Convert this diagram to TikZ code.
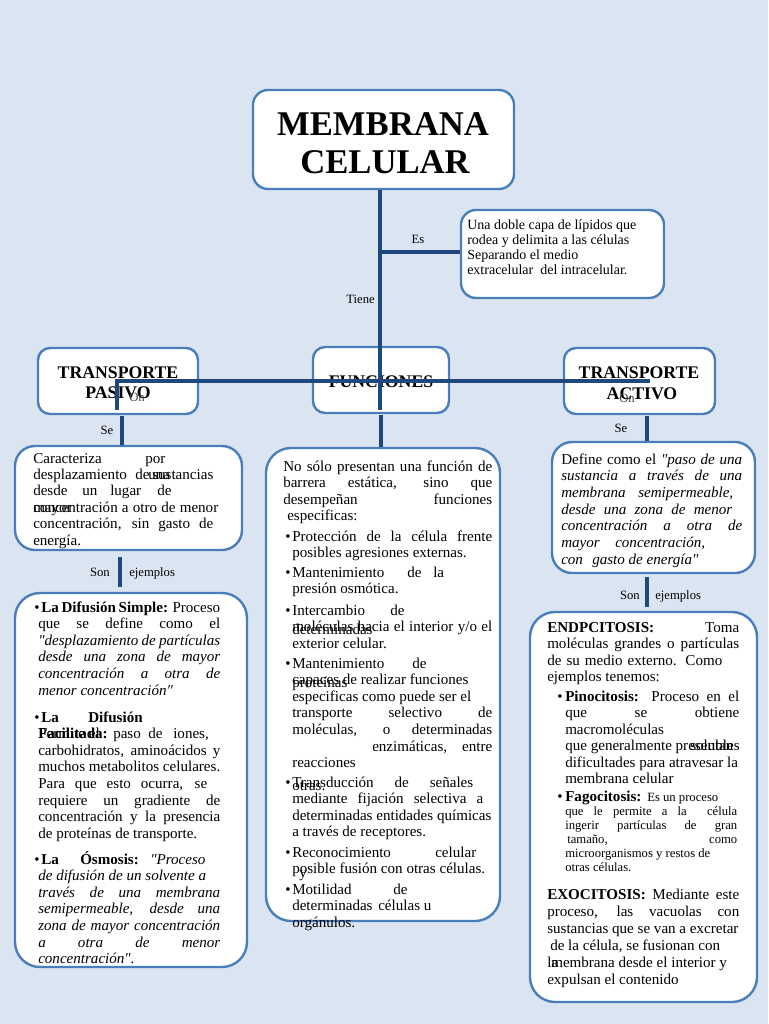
\documentclass[tikz,border=0pt]{standalone}
\usepackage{fontspec}
\setmainfont{Liberation Serif}
\newdimen\px \px=0.75pt
\newcommand\pwx[2]{\rlap{\hspace*{#1\px}#2}}
\newcommand\jlx[2]{\hbox to #1\px{#2}}
\newcommand\plx[1]{\hbox{#1}}
\newcommand\gapx[1]{\vskip #1\px\relax}
\newcommand\bskx[1]{\baselineskip=#1\px\relax}
\newcommand\blkx[2]{\vtop{\lineskiplimit=-\maxdimen\lineskip=0pt\baselineskip=#1\px\relax #2}}
\newcommand\bulx{\pwx{-4}{\textbullet}}
\newcommand\bmx{\pwx{2}{\textbullet}}
\newcommand\smfx{\fontsize{9.5}{11}\selectfont}
\newcommand\qq{\textquotedbl}
\definecolor{bgc}{RGB}{219,229,241}
\definecolor{boxc}{RGB}{74,126,187}
\definecolor{connc}{RGB}{31,73,125}
\begin{document}
\begin{tikzpicture}[x=0.75pt,y=-0.75pt,
 bx/.style={draw=boxc, fill=white, line width=1.8pt, inner sep=0pt},
 conn/.style={draw=connc, line width=3pt},
 lbl/.style={font=\fontsize{9.5}{11}\selectfont, inner sep=0pt},
 hd/.style={font=\fontsize{13.3}{15}\selectfont\bfseries, inner sep=0pt, anchor=base},
 ttl/.style={font=\fontsize{26}{30}\selectfont\bfseries, inner sep=0pt, anchor=base},
 txt/.style={inner sep=0pt, anchor=base west, font=\fontsize{11.3}{13}\selectfont}]
\useasboundingbox (0,0) rectangle (768,1024);
\fill[bgc] (0,0) rectangle (768,1024);

% boxes
\node[bx, rounded corners=11.25pt, minimum width=195.75pt, minimum height=74.25pt] (title) at (383.5,139.5) {};
\node[bx, rounded corners=11.25pt, minimum width=152.25pt, minimum height=66pt] (desc) at (562.5,254) {};
\node[bx, rounded corners=9pt, minimum width=120pt, minimum height=49.5pt] (pasivo) at (118,381) {};
\node[bx, rounded corners=9pt, minimum width=102pt, minimum height=49.5pt] (funciones) at (381,380) {};
\node[bx, rounded corners=9pt, minimum width=113.25pt, minimum height=49.5pt] (activo) at (639.5,381) {};
\node[bx, rounded corners=15pt, minimum width=170.25pt, minimum height=78pt] (carac) at (128.5,498) {};
\node[bx, rounded corners=18.75pt, minimum width=174pt, minimum height=280.5pt] (ejpas) at (131,780) {};
\node[bx, rounded corners=18.75pt, minimum width=175.5pt, minimum height=354.75pt] (funbox) at (383,684.5) {};
\node[bx, rounded corners=15pt, minimum width=152.25pt, minimum height=98.25pt] (define) at (653.5,507.5) {};
\node[bx, rounded corners=18.75pt, minimum width=170.25pt, minimum height=292.5pt] (ejact) at (643.5,807) {};

% title and headers
\node[ttl] (t1) at (383,135) {MEMBRANA};
\node[ttl] (t2) at (385,173) {CELULAR};
\node[hd] (p1t) at (118,378) {TRANSPORTE};
\node[hd] (p2t) at (118,398) {PASIVO};
\node[hd] (ft) at (381,387) {FUNCIONES};
\node[hd] (a1t) at (639,378) {TRANSPORTE};
\node[hd] (a2t) at (642,399) {ACTIVO};

% labels
\node[lbl, anchor=base] (es) at (418,243) {Es};
\node[lbl, anchor=base east] (tiene) at (375,303) {Tiene};
\node[lbl, anchor=base] (seL) at (107,434) {Se};
\node[lbl, anchor=base] (seR) at (621,432) {Se};
\node[lbl, anchor=base, text=black!75] (onL) at (137,401) {On};
\node[lbl, anchor=base, text=black!75] (onR) at (627,402) {On};
\node[lbl, anchor=base east] (sonL) at (110,576) {Son};
\node[lbl, anchor=base west] (ejL) at (129,576) {ejemplos};
\node[lbl, anchor=base east] (sonR) at (640,599) {Son};
\node[lbl, anchor=base west] (ejR) at (655,599) {ejemplos};

% top right text
\node[txt, font=\fontsize{10.5}{12}\selectfont] (descT) at (467,229) {\blkx{15}{%
\plx{Una doble capa de lípidos que}%
\plx{rodea y delimita a las células}%
\plx{Separando el medio}%
\plx{extracelular\ \ del intracelular.}}};

% left small text
\node[txt] (caracT) at (33,463) {\blkx{16.4}{%
\plx{\pwx{0}{Caracteriza}\pwx{112}{por}}%
\plx{\pwx{0}{desplazamiento}\pwx{102}{de}\pwx{115}{una}\pwx{119}{sustancias}}%
\plx{\pwx{0}{desde}\pwx{49}{un}\pwx{77}{lugar}\pwx{124}{de}}%
\plx{\pwx{0}{mayor}\pwx{0}{\jlx{185}{concentración a otro de menor}}}%
\jlx{180}{concentración, sin gasto de}%
\plx{energía.}}};

% left big text
\node[txt] (pasT) at (38,612) {\blkx{16.6}{%
\plx{\bulx\pwx{3}{\jlx{179}{\textbf{La Difusión Simple:} Proceso}}}%
\jlx{182}{que se define como el}%
\jlx{182}{\itshape \qq desplazamiento de partículas}%
\jlx{182}{\itshape desde una zona de mayor}%
\jlx{182}{\itshape concentración a otra de}%
\plx{\itshape menor concentración\qq}%
\gapx{10.4}%
\plx{\bulx\pwx{3}{\textbf{La}}\pwx{50}{\textbf{Difusión}}}%
\plx{\pwx{0}{\textbf{Facilitada:}}\pwx{0}{Permite el}\pwx{75}{paso}\pwx{110}{de}\pwx{135}{iones,}}%
\jlx{182}{carbohidratos, aminoácidos y}%
\plx{muchos metabolitos celulares.}%
\jlx{169}{Para que esto ocurra, se}%
\jlx{182}{requiere un gradiente de}%
\jlx{182}{concentración y la presencia}%
\plx{de proteínas de transporte.}%
\gapx{9.2}%
\plx{\bulx\pwx{3}{\textbf{La}}\pwx{42}{\textbf{Ósmosis:}}\pwx{112}{\itshape \qq Proceso}}%
\plx{\itshape de difusión de un solvente a}%
\jlx{182}{\itshape través de una membrana}%
\jlx{182}{\itshape semipermeable, desde una}%
\jlx{182}{\itshape zona de mayor concentración}%
\jlx{182}{\itshape a otra de menor}%
\plx{\itshape concentración\qq.}}};

% middle text
\node[txt] (funT) at (283,471) {\blkx{16.6}{%
\jlx{209}{No sólo presentan una función de}%
\jlx{209}{barrera estática, sino que}%
\jlx{209}{desempeñan funciones}%
\plx{\pwx{4}{especificas:}}%
\gapx{3.6}%
\plx{\bmx\pwx{9}{\jlx{200}{Protección de la célula frente}}}%
\plx{\pwx{9}{posibles agresiones externas.}}%
\gapx{2.8}%
\plx{\bmx\pwx{9}{Mantenimiento}\pwx{124}{de}\pwx{150}{la}}%
\plx{\pwx{9}{presión osmótica.}}%
\gapx{4.8}%
\plx{\bmx\pwx{9}{Intercambio}\pwx{107}{de}}%
\plx{\pwx{9}{\raisebox{-3\px}{determinadas}}\pwx{9}{\jlx{200}{moléculas hacia el interior y/o el}}}%
\plx{\pwx{9}{exterior celular.}}%
\gapx{3.2}%
\plx{\bmx\pwx{9}{Mantenimiento}\pwx{129}{de}}%
\plx{\pwx{9}{\raisebox{-3\px}{proteínas}}\pwx{9}{capaces de realizar funciones}}%
\plx{\pwx{9}{especificas como puede ser el}}%
\plx{\pwx{9}{\jlx{200}{transporte selectivo de}}}%
\plx{\pwx{9}{\jlx{200}{moléculas, o determinadas}}}%
\plx{\pwx{89}{\jlx{120}{enzimáticas, entre}}}%
\plx{\pwx{9}{reacciones}}%
\gapx{2.8}%
\plx{\pwx{9}{\raisebox{-3\px}{otras.}}\bmx\pwx{9}{\jlx{181}{Transducción de señales}}}%
\plx{\pwx{9}{\jlx{191}{mediante fijación selectiva a}}}%
\plx{\pwx{9}{determinadas entidades químicas}}%
\plx{\pwx{9}{a través de receptores.}}%
\gapx{3.6}%
\plx{\bmx\pwx{9}{Reconocimiento}\pwx{152}{celular}}%
\plx{\pwx{9}{posible fusión con otras células.}\pwx{16}{\raisebox{-4\px}{y}}}%
\gapx{3.8}%
\plx{\bmx\pwx{9}{Motilidad}\pwx{110}{de}}%
\plx{\pwx{9}{determinadas}\pwx{95}{células u}}%
\plx{\pwx{9}{orgánulos.}}}};

% right define text
\node[txt] (defT) at (561,464) {\blkx{16.67}{%
\jlx{181}{Define como el \textit{\qq paso de una}}%
\jlx{181}{\itshape sustancia a través de una}%
\jlx{172}{\itshape membrana semipermeable,}%
\jlx{171}{\itshape desde una zona de menor}%
\jlx{181}{\itshape concentración a otra de}%
\plx{\itshape\pwx{0}{mayor}\pwx{54}{concentración,}}%
\plx{\itshape\pwx{0}{con}\pwx{31}{gasto de energía\qq}}}};

% right big text
\node[txt] (actT) at (547,632) {\blkx{16.5}{%
\jlx{192}{\textbf{ENDPCITOSIS:}\hfill Toma}%
\jlx{192}{moléculas grandes o partículas}%
\jlx{175}{de su medio externo. Como}%
\plx{ejemplos tenemos:}%
\gapx{3}%
\plx{\pwx{10}{\textbullet}\pwx{18}{\jlx{174}{\textbf{Pinocitosis:} Proceso en el}}}%
\plx{\pwx{18}{\jlx{174}{que se obtiene}}}%
\plx{\pwx{18}{macromoléculas}}%
\plx{\pwx{18}{que generalmente presentan}\pwx{143}{solubles}}%
\plx{\pwx{18}{dificultades para atravesar la}}%
\plx{\pwx{18}{membrana celular}}%
\gapx{1}%
\plx{\pwx{10}{\textbullet}\pwx{18}{\textbf{Fagocitosis:}}\pwx{100}{\smfx Es un proceso}}%
\bskx{14}%
\plx{\smfx\pwx{18}{\jlx{172}{que le permite a la\ \ célula}}}%
\plx{\smfx\pwx{18}{\jlx{172}{ingerir partículas de gran}}}%
\plx{\smfx\pwx{20}{\jlx{170}{tamaño,\hfill como}}}%
\plx{\smfx\pwx{18}{microorganismos y restos de}}%
\plx{\smfx\pwx{18}{otras células.}}%
\bskx{17}\gapx{11}%
\jlx{192}{\textbf{EXOCITOSIS:} Mediante este}%
\jlx{192}{proceso, las vacuolas con}%
\plx{sustancias que se van a excretar}%
\plx{\pwx{3}{de la célula, se fusionan con}}%
\plx{\pwx{0}{la}\pwx{4}{membrana desde el interior y}}%
\plx{expulsan el contenido}}};

% connectors
\coordinate (m1) at (380,410);
\coordinate (esJ) at (380,252);
\coordinate (hL0) at (117,410);
\coordinate (hL) at (117,381);
\coordinate (hR) at (650,381);
\coordinate (pd) at (122,416);
\coordinate (fd) at (381,415);
\coordinate (ad) at (647,416);
\coordinate (s1) at (120,557);
\coordinate (s2) at (120,587);
\coordinate (r1) at (647,577);
\coordinate (r2) at (647,607);
\draw[conn] (title.south -| m1) -- (m1);
\draw[conn] (esJ) -- (desc.west |- esJ);
\draw[conn] (hL0) -- (hL) -- (hR);
\draw[conn] (pd) -- (pd |- carac.north);
\draw[conn] (fd) -- (fd |- funbox.north);
\draw[conn] (ad) -- (ad |- define.north);
\draw[conn] (s1) -- (s2);
\draw[conn] (r1) -- (r2);
\end{tikzpicture}
\end{document}
